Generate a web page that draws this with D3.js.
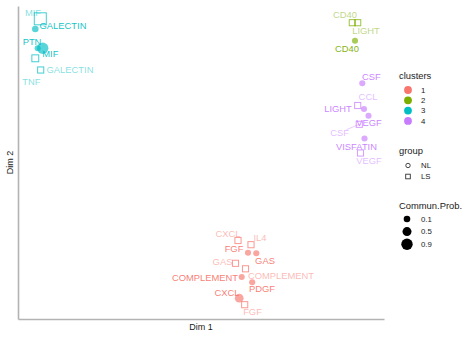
<!DOCTYPE html>
<html><head><meta charset="utf-8">
<script src="https://cdn.jsdelivr.net/npm/d3@7/dist/d3.min.js"></script>
<style>
html,body{margin:0;padding:0;background:#fff;}
svg text{font-family:"Liberation Sans",Arial,Helvetica,sans-serif;}
</style></head>
<body><svg id="chart" width="474" height="338"></svg>
<script>
// ---- data ----
const clusterLevels = ["1", "2", "3", "4"];
const groupLevels = ["NL", "LS"];
const probTicks = [0.1, 0.5, 0.9];
const pathway = ["MIF","GALECTIN","PTN","MIF","TNF","GALECTIN",
  "CD40","LIGHT","CD40",
  "CSF","CCL","LIGHT","VEGF","CSF","VISFATIN","VEGF",
  "CXCL","IL4","FGF","GAS","GAS","COMPLEMENT","COMPLEMENT","PDGF","CXCL","FGF"];
const group = ["LS","NL","NL","NL","LS","LS",
  "LS","LS","NL",
  "NL","LS","NL","NL","LS","NL","LS",
  "LS","LS","NL","NL","LS","LS","NL","NL","NL","LS"];
const cluster = ["3","3","3","3","3","3",
  "2","2","2",
  "4","4","4","4","4","4","4",
  "1","1","1","1","1","1","1","1","1","1"];
const dim1 = [22.3,17.3,19.7,24.7,17.3,22.7,
  334.3,339.7,337,
  344.3,339.7,346,350.5,341.3,346.5,342.5,
  220,233,230,238.3,217.5,227.5,223.7,234.2,221.2,226.7];
const dim2 = [300.2,290,270.7,270.7,260.7,249,
  296.3,296.3,278.3,
  235.7,213.5,210,203.3,194.7,180.5,166,
  78.5,74.3,66.2,65.7,55.7,50.2,42,36.8,20.8,14.3];
const prob = [1.0,0.1,0.02,0.9,0.15,0.02,
  0.02,0.02,0.02,
  0.02,0.02,0.02,0.02,0.02,0.02,0.02,
  0.02,0.02,0.02,0.02,0.02,0.02,0.02,0.02,0.45,0.02];

// ---- layout (label repel offsets, px) ----
const labelOffset = [[-7.3,-6.1],[27.7,-3],[-5.7,-6.3],[7.6,5.2],[-4,23.4],[29.3,-0.5],
  [-7.3,-7.7],[8.3,8],[-8,7.6],
  [9,-6.3],[10.3,-8.8],[-26,0],[0.5,7.3],[-19.8,8.4],[-8,8],[8.5,8],
  [-10,-6.5],[9,-6.7],[-14,-4.1],[8.7,7.2],[-13,-1.8],[35.5,6.5],[-36.7,0.7],[9.8,6.8],[-12.2,-6],[7.8,6.6]];
const segmentIdx = [13];

const svg = d3.select("#chart");
const panel = {left: 18, right: 384, top: 6, bottom: 319};
const x = d3.scaleLinear().domain([0, 366]).range([panel.left, panel.right]);
const y = d3.scaleLinear().domain([0, 313]).range([panel.bottom, panel.top]);
const color = d3.scaleOrdinal().domain(clusterLevels).range(["#F8766D","#7CAE00","#00BFC4","#C77CFF"]);
const r = d3.scaleLinear().domain([0, 1]).range([3, 6]);

const pts = pathway.map((p, i) => ({name: p, group: group[i], cluster: cluster[i], x: dim1[i], y: dim2[i], prob: prob[i], off: labelOffset[i], i}));

// axes (lines only, no ticks)
const xAxis = d3.axisBottom(x).tickValues([]).tickSizeOuter(0);
const yAxis = d3.axisLeft(y).tickValues([]).tickSizeOuter(0);
const gx = svg.append("g").attr("transform", `translate(0,${panel.bottom})`).call(xAxis);
const gy = svg.append("g").attr("transform", `translate(${panel.left},0)`).call(yAxis);
[gx, gy].forEach(g => g.select(".domain").attr("stroke", "#b3b3b3").attr("stroke-width", 1.6));

svg.append("text").attr("x", (panel.left + panel.right) / 2).attr("y", 330)
  .attr("text-anchor", "middle").attr("font-size", 9).attr("fill", "#1a1a1a").text("Dim 1");
svg.append("text").attr("transform", `translate(12.5,${(panel.top + panel.bottom) / 2}) rotate(-90)`)
  .attr("text-anchor", "middle").attr("font-size", 9).attr("fill", "#1a1a1a").text("Dim 2");

// segments
svg.append("g").selectAll("line").data(pts.filter(d => segmentIdx.includes(d.i))).join("line")
  .attr("x1", d => x(d.x)).attr("y1", d => y(d.y))
  .attr("x2", d => x(d.x) + d.off[0] + 7).attr("y2", d => y(d.y) + d.off[1] - 3)
  .attr("stroke", d => color(d.cluster)).attr("stroke-opacity", 0.5).attr("stroke-width", 0.8);

// points
const gp = svg.append("g");
gp.selectAll("circle").data(pts.filter(d => d.group === "NL")).join("circle")
  .attr("cx", d => x(d.x)).attr("cy", d => y(d.y)).attr("r", d => r(d.prob))
  .attr("fill", d => color(d.cluster)).attr("fill-opacity", 0.65);
gp.selectAll("rect").data(pts.filter(d => d.group === "LS")).join("rect")
  .attr("x", d => x(d.x) - r(d.prob)).attr("y", d => y(d.y) - r(d.prob))
  .attr("width", d => 2 * r(d.prob)).attr("height", d => 2 * r(d.prob))
  .attr("fill", "none").attr("stroke", d => color(d.cluster)).attr("stroke-opacity", 0.75).attr("stroke-width", 1);

// labels
svg.append("g").selectAll("text").data(pts).join("text")
  .attr("x", d => x(d.x) + d.off[0]).attr("y", d => y(d.y) + d.off[1]).attr("dy", "0.36em")
  .attr("text-anchor", "middle").attr("font-size", 9.4)
  .attr("fill", d => color(d.cluster)).attr("fill-opacity", d => d.group === "NL" ? 0.95 : 0.5)
  .text(d => d.name);

// legends
const lg = svg.append("g");
const titleX = 399, keyX = 408, labX = 421;
lg.append("text").attr("x", titleX).attr("y", 79).attr("font-size", 9.4).attr("fill", "#1a1a1a").text("clusters");
clusterLevels.forEach((c, k) => {
  const yy = 90 + k * 10.3;
  lg.append("circle").attr("cx", keyX).attr("cy", yy).attr("r", 3.9).attr("fill", color(c));
  lg.append("text").attr("x", labX).attr("y", yy).attr("dy", "0.35em").attr("font-size", 7.8).attr("fill", "#1a1a1a").text(c);
});
lg.append("text").attr("x", titleX).attr("y", 154).attr("font-size", 9.4).attr("fill", "#1a1a1a").text("group");
groupLevels.forEach((g, k) => {
  const yy = 165.5 + k * 11;
  if (g === "NL") lg.append("circle").attr("cx", keyX).attr("cy", yy).attr("r", 2.2).attr("fill", "none").attr("stroke", "#333").attr("stroke-width", 0.9);
  else lg.append("rect").attr("x", keyX - 2.3).attr("y", yy - 2.3).attr("width", 4.6).attr("height", 4.6).attr("fill", "none").attr("stroke", "#333").attr("stroke-width", 0.9);
  lg.append("text").attr("x", labX).attr("y", yy).attr("dy", "0.35em").attr("font-size", 7.8).attr("fill", "#1a1a1a").text(g);
});
lg.append("text").attr("x", titleX).attr("y", 209).attr("font-size", 9.4).attr("fill", "#1a1a1a").text("Commun.Prob.");
probTicks.forEach((p, k) => {
  const yy = 219 + k * 12.6;
  lg.append("circle").attr("cx", keyX - 1).attr("cy", yy).attr("r", r(p)).attr("fill", "#000");
  lg.append("text").attr("x", labX).attr("y", yy).attr("dy", "0.35em").attr("font-size", 7.8).attr("fill", "#1a1a1a").text(p);
});
</script></body></html>
